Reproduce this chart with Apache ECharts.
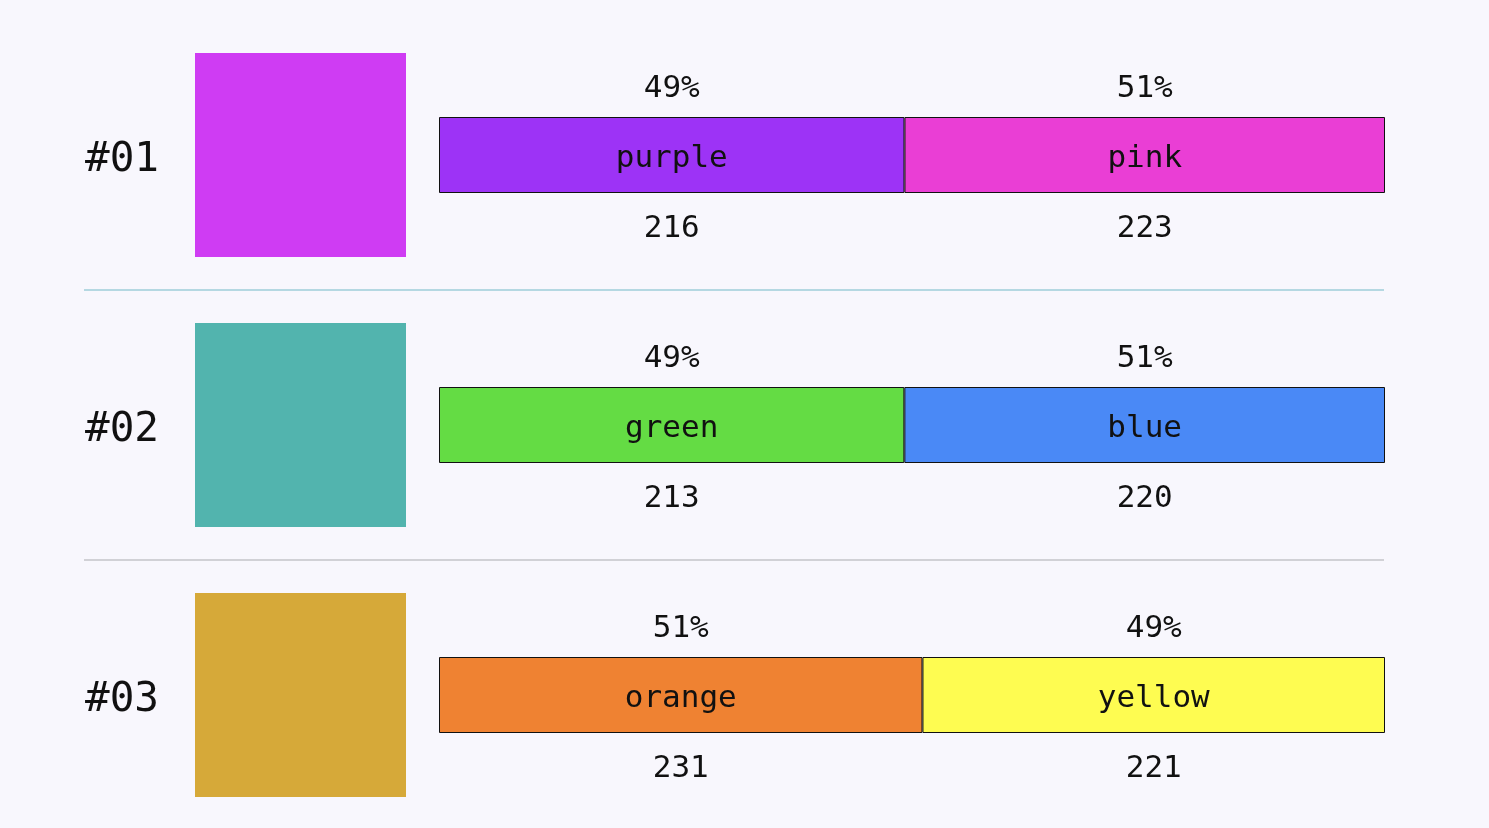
<!DOCTYPE html>
<html>
<head>
<meta charset="utf-8">
<script src="https://cdn.jsdelivr.net/npm/echarts@6/dist/echarts.min.js"></script>
<style>
html,body{margin:0;padding:0;background:#f8f7fd;}
#chart{width:1489px;height:828px;}
</style>
</head>
<body>
<div id="chart"></div>
<script>
const rowLabels = ['#01', '#02', '#03'];
const leftNames = ['purple', 'green', 'orange'];
const rightNames = ['pink', 'blue', 'yellow'];
const leftValues = [216, 213, 231];
const rightValues = [223, 220, 221];

const swatchColors = ['#cf3cf3', '#52b4ae', '#d6a939'];
const leftColors = ['#9d33f6', '#64dc44', '#ef8232'];
const rightColors = ['#ea3ed5', '#4a89f6', '#fefc51'];
const separatorColors = ['#b5d8e2', '#d1d1d6'];

const FONT = '"DejaVu Sans Mono", "Liberation Mono", monospace';
const ROW_STEP = 270;

const grids = [], xAxes = [], yAxes = [], series = [], graphics = [];

function segLabel(name, value, total) {
  const pct = Math.round(value / total * 100) + '%';
  const st = { fontFamily: FONT, fontSize: 31, color: '#111', lineHeight: 70 };
  return {
    show: true,
    position: 'inside',
    overflow: 'none',
    offset: [0, 4],
    formatter: '{p|' + pct + '}\n{n|' + name + '}\n{v|' + value + '}',
    rich: { p: st, n: st, v: st }
  };
}

rowLabels.forEach((lab, i) => {
  const total = leftValues[i] + rightValues[i];
  // swatch grid
  const gs = grids.length;
  grids.push({ left: 195, top: 53 + ROW_STEP * i, width: 211, height: 204 });
  xAxes.push({ type: 'value', gridIndex: gs, min: 0, max: 1, show: false });
  yAxes.push({
    type: 'category', gridIndex: gs, data: [lab],
    axisLine: { show: false }, axisTick: { show: false }, splitLine: { show: false },
    axisLabel: {
      margin: 36,
      formatter: '{a|{value}}',
      rich: { a: { fontFamily: FONT, fontSize: 41, color: '#111', padding: [10, 0, 0, 0] } }
    }
  });
  series.push({
    type: 'bar', xAxisIndex: gs, yAxisIndex: gs, data: [1], barWidth: '100%',
    itemStyle: { color: swatchColors[i] }, silent: true
  });
  // bar grid
  const gb = grids.length;
  grids.push({ left: 439, top: 117 + ROW_STEP * i, width: 946, height: 76 });
  xAxes.push({ type: 'value', gridIndex: gb, min: 0, max: total, show: false });
  yAxes.push({ type: 'category', gridIndex: gb, data: ['r'], show: false });
  series.push({
    type: 'bar', xAxisIndex: gb, yAxisIndex: gb, stack: 'row' + i,
    data: [leftValues[i]], barWidth: '100%',
    itemStyle: { color: leftColors[i], borderColor: '#111', borderWidth: 1 },
    label: segLabel(leftNames[i], leftValues[i], total), silent: true
  });
  series.push({
    type: 'bar', xAxisIndex: gb, yAxisIndex: gb, stack: 'row' + i,
    data: [rightValues[i]], barWidth: '100%',
    itemStyle: { color: rightColors[i], borderColor: '#111', borderWidth: 1 },
    label: segLabel(rightNames[i], rightValues[i], total), silent: true
  });
});

separatorColors.forEach((c, i) => {
  graphics.push({
    type: 'line',
    shape: { x1: 84, y1: 290 + ROW_STEP * i, x2: 1384, y2: 290 + ROW_STEP * i },
    style: { stroke: c, lineWidth: 2 }
  });
});

const chart = echarts.init(document.getElementById('chart'), null, { renderer: 'canvas' });
chart.setOption({
  backgroundColor: '#f8f7fd',
  animation: false,
  grid: grids,
  xAxis: xAxes,
  yAxis: yAxes,
  series: series,
  graphic: graphics
});
</script>
</body>
</html>
